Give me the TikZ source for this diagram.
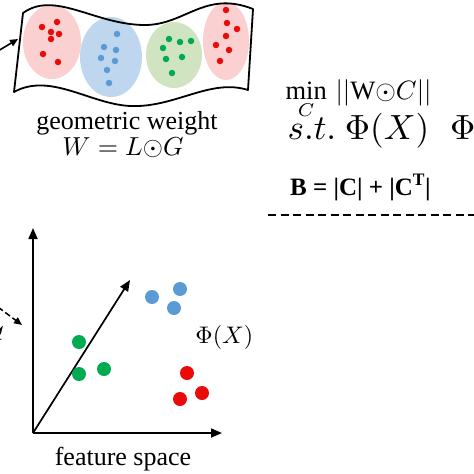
\documentclass[tikz,border=0pt]{standalone}
\usepackage{amsmath}
\usepackage{fontspec}
\setmainfont{Liberation Serif}
\usetikzlibrary{arrows.meta}
\definecolor{dotred}{RGB}{235,10,10}
\definecolor{dotblue}{RGB}{91,155,213}
\definecolor{dotgreen}{RGB}{0,170,80}
\definecolor{pinkfill}{RGB}{250,208,208}
\definecolor{bluefill}{RGB}{190,214,238}
\definecolor{greenfill}{RGB}{208,228,194}

\begin{document}
\begin{tikzpicture}
[x=1pt,y=-1pt,
 dot/.style={circle,inner sep=0pt,minimum size=6.5pt},
 bigdot/.style={circle,inner sep=0pt,minimum size=14pt},
 axis/.style={line width=1.7pt,-{Triangle[length=11pt,width=9pt]}},
 every node/.append style={inner sep=0pt}]
\useasboundingbox (0,0) rectangle (474,474);
\clip (0,0) rectangle (474,474);
% manifold with clusters
\fill[pinkfill] (52,42) ellipse [x radius=29,y radius=37];
\fill[bluefill] (111,57) ellipse [x radius=31,y radius=40];
\fill[greenfill] (174,55) ellipse [x radius=28,y radius=33];
\fill[pinkfill] (226,41) ellipse [x radius=23,y radius=39];
\draw[line width=1.8pt,line join=round] (23,13) .. controls (55,-10) and (95,25) .. (145,25)
  .. controls (185,25) and (205,-10) .. (253,9) -- (248,90)
  .. controls (210,78) and (175,108) .. (130,106)
  .. controls (90,104) and (50,72) .. (14,92) -- cycle;
\foreach \x/\y [count=\i] in {42/27,57/22,51/32,59/34,51/39,43/54,58/62}
  \node[dot,fill=dotred] (ra\i) at (\x,\y) {};
\foreach \x/\y [count=\i] in {117/34,104/47,116/50,101/58,115/61,107/70,109/83}
  \node[dot,fill=dotblue] (ba\i) at (\x,\y) {};
\foreach \x/\y [count=\i] in {169/39,180/42,191/41,163/48,166/59,182/57,172/73}
  \node[dot,fill=dotgreen] (ga\i) at (\x,\y) {};
\foreach \x/\y [count=\i] in {226/10,227/23,237/29,226/36,216/45,229/50,220/61}
  \node[dot,fill=dotred] (rb\i) at (\x,\y) {};
\coordinate (intail) at (-2,51);
\coordinate (inhead) at (18,39);
\draw[line width=1.6pt,-{Triangle[length=8pt,width=7pt]}] (intail) -- (inhead);
\node[anchor=base,font=\fontsize{26}{30}\selectfont] (geo) at (127,129) {geometric weight};
\node[anchor=base,scale=2.6] (wlg) at (123,155) {$W = L{\odot}G$};
% objective
\node[anchor=base west,scale=2.65] (obj) at (285,99)
  {$\mathop{\text{min}}\limits_{C}\,||\text{W}{\odot}C||$};
\node[anchor=base west,scale=3.5] (st) at (287,139)
  {$s.t.\ \Phi(X)\hspace{6pt}\Phi$};
\node[anchor=base west,font=\fontsize{25}{28}\selectfont\bfseries] (bmat) at (290,195)
  {B = |C| + |C\textsuperscript{T}|};
\coordinate (dl) at (268,215);
\coordinate (dr) at (476,215);
\draw[line width=1.5pt,dash pattern=on 8pt off 4.5pt] (dl) -- (dr);
% feature space
\node[scale=3] (gcut) at (-8,337) {$G$};
\coordinate (gtail) at (-2,307);
\coordinate (ghead) at (22,325);
\draw[line width=1.5pt,dash pattern=on 6pt off 3pt,-{Triangle[length=8pt,width=7pt]}] (gtail) -- (ghead);
\coordinate (o) at (33,433);
\coordinate (ytop) at (33,228);
\coordinate (xend) at (222,433);
\coordinate (dend) at (130,280);
\foreach \to in {ytop,xend,dend}
  \draw[axis] (o) -- (\to);
\node[bigdot,fill=dotblue] (b1) at (152,297) {};
\node[bigdot,fill=dotblue] (b2) at (180,289) {};
\node[bigdot,fill=dotblue] (b3) at (174,308) {};
\node[bigdot,fill=dotgreen] (g1) at (79,342) {};
\node[bigdot,fill=dotgreen] (g2) at (79,374) {};
\node[bigdot,fill=dotgreen] (g3) at (104,369) {};
\node[bigdot,fill=dotred] (r1) at (187,373) {};
\node[bigdot,fill=dotred] (r2) at (180,399) {};
\node[bigdot,fill=dotred] (r3) at (202,393) {};
\node[anchor=base west,scale=2.4] (phix) at (195,343) {$\Phi(X)$};
\node[anchor=base,font=\fontsize{26}{30}\selectfont] (feat) at (123,465) {feature space};
\end{tikzpicture}
\end{document}
